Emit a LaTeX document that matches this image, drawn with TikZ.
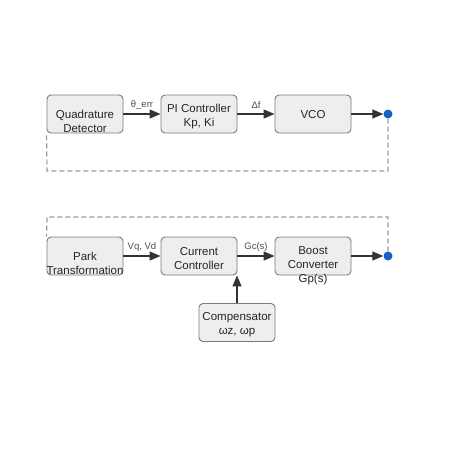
\documentclass[tikz,border=0pt]{standalone}
\usepackage{fontspec}
\setmainfont{Liberation Sans}
\usepackage{tikz}
\usetikzlibrary{arrows.meta}
\definecolor{boxfill}{HTML}{EEEEEE}
\definecolor{boxline}{HTML}{7A7A7A}
\definecolor{flowline}{HTML}{333333}
\definecolor{dotblue}{HTML}{1565C0}
\definecolor{fbline}{HTML}{9A9A9A}
\tikzset{
    every node/.style={align=center,},
    block/.style={draw=boxline,fill=boxfill,rectangle,rounded corners=4pt,line width=0.9pt,
        minimum width=76pt,minimum height=38pt,inner sep=0pt,},
    blocktext/.style={font=\fontsize{11.5}{14}\selectfont,text=black!85,inner sep=0pt,},
    sig/.style={font=\fontsize{9.5}{11}\selectfont,text=black!70,inner sep=0pt,},
    flow/.style={draw=flowline,line width=1.3pt,-{Triangle[length=11pt,width=9pt]},},
    feedback/.style={draw=fbline,line width=1.2pt,dash pattern=on 5pt off 3pt,},
    port/.style={circle,fill=dotblue,inner sep=0pt,minimum size=9pt,},
}

\begin{document}
\begin{tikzpicture}[x=1pt,y=-1pt]
                \useasboundingbox (0,0) rectangle (474,474);

                % phase loop
                \node[block] (quad) at (85, 114) {};
                \node[blocktext] (quad_txt) at (85, 121) {Quadrature\\Detector};
                \node[block] (pi) at (199, 114) {};
                \node[blocktext] (pi_txt) at (199, 117) {PI Controller\\Kp, Ki};
                \node[block] (vco) at (313, 114) {};
                \node[blocktext] (vco_txt) at (313, 115) {VCO};
                \node[port] (out_pll) at (388, 114) {};

                \path (quad) edge[flow] node[sig,midway,yshift=9pt] {θ\_err} (pi);
                \path (pi) edge[flow] node[sig,midway,yshift=9pt] {Δf} (vco);
                \path (vco) edge[flow] (out_pll);

                \coordinate (pll_return) at (47, 171);
                \draw[feedback] (out_pll.south) |- (pll_return) -- (quad.south west);

                % current loop
                \node[block] (park) at (85, 256) {};
                \node[blocktext] (park_txt) at (85, 263) {Park\\Transformation};
                \node[block] (current) at (199, 256) {};
                \node[blocktext] (current_txt) at (199, 259) {Current\\Controller};
                \node[block] (boost) at (313, 256) {};
                \node[blocktext] (boost_txt) at (313, 266) {Boost\\Converter\\Gp(s)};
                \node[port] (out_boost) at (388, 256) {};
                \node[block] (comp) at (237, 322.5) {};
                \node[blocktext] (comp_txt) at (237, 325) {Compensator\\ωz, ωp};

                \path (park) edge[flow] node[sig,midway,yshift=9pt] {Vq, Vd} (current);
                \path (current) edge[flow] node[sig,midway,yshift=9pt] {Gc(s)} (boost);
                \path (boost) edge[flow] (out_boost);
                \path (comp.north) edge[flow] (comp.north |- current.south);

                \coordinate (boost_return) at (47, 217);
                \draw[feedback] (out_boost.north) |- (boost_return) -- (park.north west);
            \end{tikzpicture}
\end{document}
